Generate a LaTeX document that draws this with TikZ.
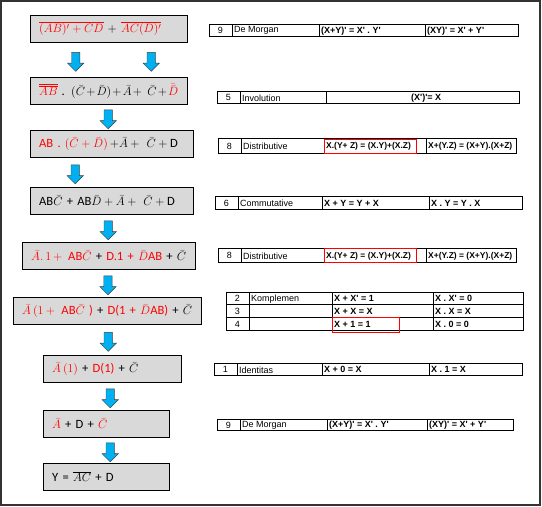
\documentclass[tikz,border=0pt]{standalone}
\usepackage{fontspec}
\setmainfont{Carlito}
\newfontfamily\tabfont{Liberation Sans}
\usepackage{xcolor}
\usetikzlibrary{shapes, calc, positioning}
\definecolor{boxgray}{HTML}{D9D9D9}
\definecolor{arrowblue}{HTML}{00B0F0}

\begin{document}
\begin{tikzpicture}[x=1pt, y=-1pt,
  box/.style={draw, fill=boxgray, anchor=north west, align=left, inner xsep=9pt,
    minimum height=27pt, font=\fontsize{12.6}{14}\selectfont},
  downarrow/.style={single arrow, draw=black!75, fill=arrowblue, rotate=-90,
    inner xsep=0pt, inner ysep=4pt, minimum height=19pt, single arrow head extend=4pt},
  row/.style={draw, line width=0.8pt},
  redbox/.style={draw=red, line width=0.8pt},
  num/.style={font=\tabfont\fontsize{9}{10}\selectfont, inner sep=0pt, yshift=-0.6pt},
  law/.style={font=\tabfont\fontsize{9}{10}\selectfont, anchor=west, inner sep=2pt, yshift=-0.8pt},
  eq/.style={font=\tabfont\bfseries\fontsize{9}{10}\selectfont, anchor=west, inner sep=2pt, yshift=-0.8pt},
  smalleq/.style={eq, font=\tabfont\bfseries\fontsize{8.5}{10}\selectfont}]

  \useasboundingbox (0,0) rectangle (542,507);
  \draw[line width=2pt, black!80] (1,1) rectangle (540,505);

  % simplification steps
  \node[box, text width=139pt] (b1) at (30,15)
    {\textcolor{red}{$\overline{(AB)'+CD}$} $+$ \textcolor{red}{$\overline{AC(D)'}$}};
  \node[box, text width=139pt] (b2) at (30,77)
    {\textcolor{red}{$\overline{\overline{AB}}$} . $(\bar C+\bar D)+\bar A+\ \bar C+{}$\textcolor{red}{$\bar{\bar D}$}};
  \node[box, text width=145pt] (b3) at (30,130)
    {\textcolor{red}{AB . $(\bar C+\bar D)$}$\,+\bar A+\ \bar C+{}$D};
  \node[box, text width=145pt] (b4) at (30,187)
    {AB$\bar C$ + AB$\bar D+\bar A+\ \bar C+{}$D};
  \node[box, text width=155pt] (b5) at (22,242)
    {\textcolor{red}{$\bar A.\,1+{}$ AB$\bar C$} + \textcolor{red}{D.1 + $\bar D$AB} + $\bar C$};
  \node[box, text width=170pt] (b6) at (13,297)
    {\textcolor{red}{$\bar A\,(1+{}$ AB$\bar C$ )} + \textcolor{red}{D(1 + $\bar D$AB)} + $\bar C$};
  \node[box, text width=120pt] (b7) at (43,355)
    {\textcolor{red}{$\bar A\,(1)$} + \textcolor{red}{D(1)} + $\bar C$};
  \node[box, text width=108pt] (b8) at (43,410)
    {\textcolor{red}{$\bar A$} + D + \textcolor{red}{$\bar C$}};
  \node[box, text width=108pt] (b9) at (43,463)
    {Y = $\overline{AC}$ + D};

  % arrows between steps
  \node[downarrow] (a1) at ($(b1.south)!.5!(b2.north)+(-33,0)$) {};
  \node[downarrow] (a1b) at ($(b1.south)!.5!(b2.north)+(42.5,0)$) {};
  \node[downarrow] (a2) at ($(b2.south)!.5!(b3.north)+(-2,0)$) {};
  \node[downarrow] (a3) at ($(b3.south)!.5!(b4.north)+(-36.5,0)$) {};
  \node[downarrow] (a4) at ($(b4.south)!.5!(b5.north)+(-2,0)$) {};
  \node[downarrow] (a5) at ($(b5.south)!.5!(b6.north)$) {};
  \node[downarrow] (a6) at ($(b6.south)!.5!(b7.north)+(-1.5,0)$) {};
  \node[downarrow] (a7) at ($(b7.south)!.5!(b8.north)+(1,0)$) {};
  \node[downarrow] (a8) at ($(b8.south)!.5!(b9.north)+(4,0)$) {};

  % law tables
  \draw[row] (209,24) rectangle (518,36) (232,24) -- (232,36) (319,24) -- (319,36) (425,24) -- (425,36);
  \node[num] (t1n) at (220.5,30) {9};
  \node[law] (t1l) at (232,30) {De Morgan};
  \node[eq] (t1a) at (319,30) {(X+Y)' = X' . Y'};
  \node[eq] (t1b) at (425,30) {(XY)' = X' + Y'};

  \draw[row] (217,91) rectangle (519,103) (240,91) -- (240,103) (326,91) -- (326,103);
  \node[num] (t2n) at (228.5,97) {5};
  \node[law] (t2l) at (240,97) {Involution};
  \node[eq] (t2a) at (409,97) {(X')'= X};

  \draw[row] (218,138) rectangle (516,153) (241,138) -- (241,153) (324,138) -- (324,153) (426,138) -- (426,153);
  \draw[redbox] (324,139) rectangle (416,153);
  \node[num] (t3n) at (229.5,145.5) {8};
  \node[law] (t3l) at (241,145.5) {Distributive};
  \node[smalleq] (t3a) at (324,145.5) {X.(Y+ Z) = (X.Y)+(X.Z)};
  \node[smalleq] (t3b) at (426,145.5) {X+(Y.Z) = (X+Y).(X+Z)};

  \draw[row] (215,196) rectangle (522,209) (238,196) -- (238,209) (322,196) -- (322,209) (429,196) -- (429,209);
  \node[num] (t4n) at (226.5,202.5) {6};
  \node[law] (t4l) at (238,202.5) {Commutative};
  \node[eq] (t4a) at (322,202.5) {X + Y = Y + X};
  \node[eq] (t4b) at (429,202.5) {X . Y = Y . X};

  \draw[row] (218,248) rectangle (516,262) (241,248) -- (241,262) (324,248) -- (324,262) (426,248) -- (426,262);
  \draw[redbox] (324,248) rectangle (416,262);
  \node[num] (t5n) at (229.5,255) {8};
  \node[law] (t5l) at (241,255) {Distributive};
  \node[smalleq] (t5a) at (324,255) {X.(Y+ Z) = (X.Y)+(X.Z)};
  \node[smalleq] (t5b) at (426,255) {X+(Y.Z) = (X+Y).(X+Z)};

  \draw[row] (226,292) rectangle (523,330) (226,304) -- (523,304) (226,317) -- (523,317)
    (249,292) -- (249,330) (332,292) -- (332,330) (433,292) -- (433,330);
  \draw[redbox] (332,317) rectangle (399,332);
  \node[num] (t6n) at (237.5,298) {2};
  \node[num] (t6m) at (237.5,310.5) {3};
  \node[num] (t6o) at (237.5,323.5) {4};
  \node[law] (t6l) at (249,298) {Komplemen};
  \node[eq] (t6a) at (332,298) {X + X' = 1};
  \node[eq] (t6b) at (433,298) {X . X' = 0};
  \node[eq] (t6c) at (332,310.5) {X + X = X};
  \node[eq] (t6d) at (433,310.5) {X . X = X};
  \node[eq] (t6e) at (332,323.5) {X + 1 = 1};
  \node[eq] (t6f) at (433,323.5) {X . 0 = 0};

  \draw[row] (214,363) rectangle (522,375) (237,363) -- (237,375) (322,363) -- (322,375) (429,363) -- (429,375);
  \node[num] (t7n) at (225.5,369) {1};
  \node[law] (t7l) at (237,369) {Identitas};
  \node[eq] (t7a) at (322,369) {X + 0 = X};
  \node[eq] (t7b) at (429,369) {X . 1 = X};

  \draw[row] (217,419) rectangle (513,430) (240,419) -- (240,430) (327,419) -- (327,430) (427,419) -- (427,430);
  \node[num] (t8n) at (228.5,424.5) {9};
  \node[law] (t8l) at (240,424.5) {De Morgan};
  \node[eq] (t8a) at (327,424.5) {(X+Y)' = X' . Y'};
  \node[eq] (t8b) at (427,424.5) {(XY)' = X' + Y'};
\end{tikzpicture}
\end{document}
